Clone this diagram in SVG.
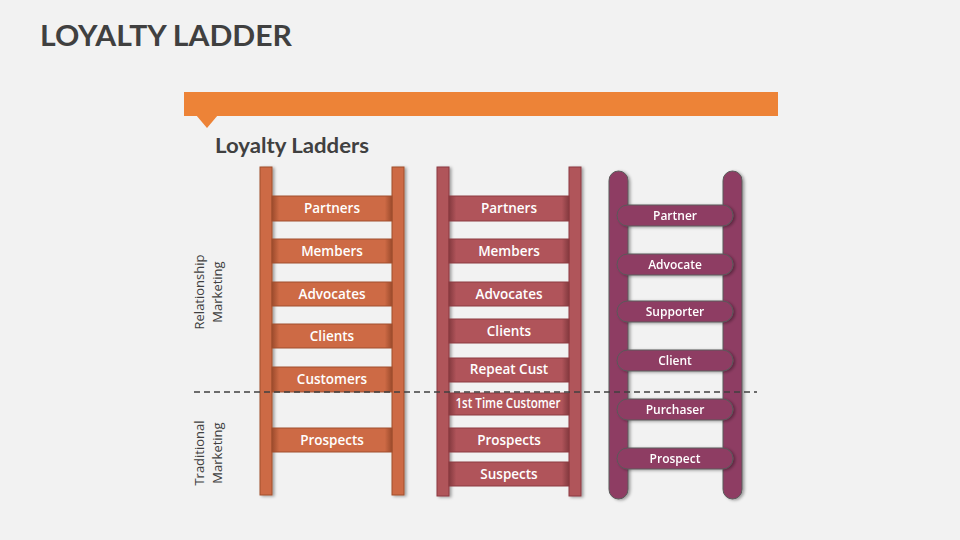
<svg xmlns="http://www.w3.org/2000/svg" width="960" height="540" viewBox="0 0 960 540">
<defs>
<filter id="sh" x="-50%" y="-10%" width="200%" height="120%">
<feDropShadow dx="2" dy="1" stdDeviation="1.5" flood-color="#000" flood-opacity="0.35"/>
</filter>
<linearGradient id="g1" x1="0" x2="1" y1="0" y2="0">
<stop offset="0" stop-color="#9c4b2c"/><stop offset="0.06" stop-color="#cd6a45"/><stop offset="0.94" stop-color="#cd6a45"/><stop offset="1" stop-color="#9c4b2c"/>
</linearGradient>
<linearGradient id="g2" x1="0" x2="1" y1="0" y2="0">
<stop offset="0" stop-color="#843a3f"/><stop offset="0.06" stop-color="#b0545a"/><stop offset="0.94" stop-color="#b0545a"/><stop offset="1" stop-color="#843a3f"/>
</linearGradient>
<style>
.title{font-family:Lato,"Liberation Sans",sans-serif;font-weight:700;fill:#404040}
.side{font-family:"Open Sans","Liberation Sans",sans-serif;font-size:13px;fill:#404040}
.rt{font-family:"Open Sans","Liberation Sans",sans-serif;font-weight:600;font-size:13.5px;fill:#fff;text-anchor:middle}
.rt3{font-family:"Open Sans","Liberation Sans",sans-serif;font-weight:600;font-size:12px;fill:#fff;text-anchor:middle}
.r1{fill:#cd6a45;stroke:#a04f2e;stroke-width:1}
.b1{fill:url(#g1);stroke:#a04f2e;stroke-width:1}
.r2{fill:#b0545a;stroke:#8b3a40;stroke-width:1}
.b2{fill:url(#g2);stroke:#8b3a40;stroke-width:1}
.r3{fill:#8e3c63;stroke:#5a5a5a;stroke-width:1}
</style>
</defs>
<rect width="960" height="540" fill="#f2f2f2"/>
<text class="title" x="40" y="46" font-size="29" textLength="252" lengthAdjust="spacingAndGlyphs">LOYALTY LADDER</text>
<g id="header">
<rect x="184" y="92" width="594" height="24" fill="#ed8337"/>
<polygon points="196,115 218,115 207,128" fill="#ed8337"/>
<text class="title" x="215" y="153" font-size="20" textLength="154" lengthAdjust="spacingAndGlyphs">Loyalty Ladders</text>
</g>
<g id="side-labels">
<text class="side" transform="translate(204,292) rotate(-90)" text-anchor="middle">Relationship</text>
<text class="side" transform="translate(222,292) rotate(-90)" text-anchor="middle">Marketing</text>
<text class="side" transform="translate(204,453) rotate(-90)" text-anchor="middle">Traditional</text>
<text class="side" transform="translate(222,453) rotate(-90)" text-anchor="middle">Marketing</text>
</g>
<g id="ladder1">
<g filter="url(#sh)">
<rect class="r1" x="260" y="167" width="12" height="328"/>
<rect class="r1" x="392" y="167" width="12" height="328"/>
</g>
<g id="l1-partners"><rect class="b1" x="272" y="196" width="120" height="25"/><text class="rt" x="332" y="212.5">Partners</text></g>
<g id="l1-members"><rect class="b1" x="272" y="239" width="120" height="24"/><text class="rt" x="332" y="255.5">Members</text></g>
<g id="l1-advocates"><rect class="b1" x="272" y="282" width="120" height="24"/><text class="rt" x="332" y="298.5">Advocates</text></g>
<g id="l1-clients"><rect class="b1" x="272" y="324" width="120" height="24"/><text class="rt" x="332" y="340.5">Clients</text></g>
<g id="l1-customers"><rect class="b1" x="272" y="367" width="120" height="25"/><text class="rt" x="332" y="383.5">Customers</text></g>
<g id="l1-prospects"><rect class="b1" x="272" y="428" width="120" height="24"/><text class="rt" x="332" y="444.5">Prospects</text></g>
</g>
<g id="ladder2">
<g filter="url(#sh)">
<rect class="r2" x="437" y="167" width="12" height="329"/>
<rect class="r2" x="569" y="167" width="12" height="329"/>
</g>
<g id="l2-partners"><rect class="b2" x="449" y="196" width="120" height="25"/><text class="rt" x="509" y="212.5">Partners</text></g>
<g id="l2-members"><rect class="b2" x="449" y="239" width="120" height="24"/><text class="rt" x="509" y="255.5">Members</text></g>
<g id="l2-advocates"><rect class="b2" x="449" y="282" width="120" height="24"/><text class="rt" x="509" y="298.5">Advocates</text></g>
<g id="l2-clients"><rect class="b2" x="449" y="319" width="120" height="24"/><text class="rt" x="509" y="335.5">Clients</text></g>
<g id="l2-repeat"><rect class="b2" x="449" y="358" width="120" height="24"/><text class="rt" x="509" y="374">Repeat Cust</text></g>
<g id="l2-first"><rect class="b2" x="449" y="393" width="120" height="22"/><text class="rt" x="508" y="408" font-size="11.5" textLength="105" lengthAdjust="spacingAndGlyphs">1st Time Customer</text></g>
<g id="l2-prospects"><rect class="b2" x="449" y="428" width="120" height="24"/><text class="rt" x="509" y="444.5">Prospects</text></g>
<g id="l2-suspects"><rect class="b2" x="449" y="462" width="120" height="24"/><text class="rt" x="509" y="478.5">Suspects</text></g>
</g>
<g id="ladder3">
<g filter="url(#sh)">
<rect class="r3" x="609" y="171" width="19" height="328" rx="9.5"/>
<rect class="r3" x="723" y="171" width="19" height="328" rx="9.5"/>
</g>
<g filter="url(#sh)">
<g id="l3-partner"><rect class="r3" x="617" y="205" width="116" height="21" rx="10.5"/><text class="rt3" x="675" y="219.5">Partner</text></g>
<g id="l3-advocate"><rect class="r3" x="617" y="254" width="116" height="21" rx="10.5"/><text class="rt3" x="675" y="268.5">Advocate</text></g>
<g id="l3-supporter"><rect class="r3" x="617" y="301" width="116" height="21" rx="10.5"/><text class="rt3" x="675" y="315.5">Supporter</text></g>
<g id="l3-client"><rect class="r3" x="617" y="350" width="116" height="21" rx="10.5"/><text class="rt3" x="675" y="364.5">Client</text></g>
<g id="l3-purchaser"><rect class="r3" x="617" y="399" width="116" height="21" rx="10.5"/><text class="rt3" x="675" y="413.5">Purchaser</text></g>
<g id="l3-prospect"><rect class="r3" x="617" y="448" width="116" height="21" rx="10.5"/><text class="rt3" x="675" y="462.5">Prospect</text></g>
</g>
</g>
<g id="connectors">
<line x1="194" y1="392" x2="757" y2="392" stroke="#404040" stroke-width="1.6" stroke-dasharray="6,4"/>
</g>
</svg>
